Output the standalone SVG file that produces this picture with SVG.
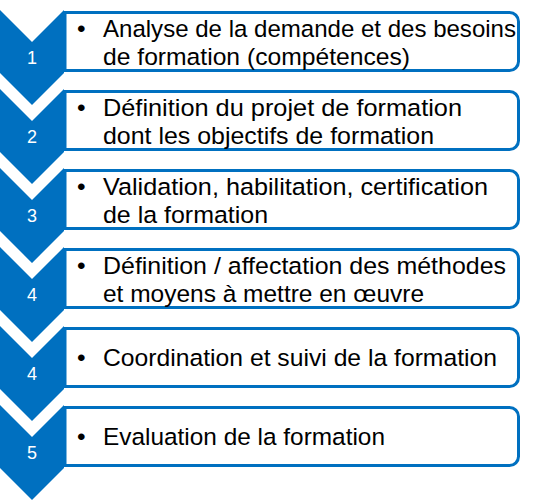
<svg xmlns="http://www.w3.org/2000/svg" width="537" height="502" viewBox="0 0 537 502">
<style>
.chev{fill:#0070C0;}
.box{fill:#FFFFFF;stroke:#0070C0;stroke-width:3;}
.num{font-family:"Liberation Sans",Arial,sans-serif;font-size:18px;fill:#FFFFFF;text-anchor:middle;}
.txt{font-family:"Liberation Sans",Arial,sans-serif;font-size:24.5px;fill:#000000;}
</style>
<defs>
<path id="chevron" d="M0,0 L32,32 L64,0 L64,63 L32,95 L0,63 Z"/>
<path id="panel" d="M65,0 H509.5 A9,9 0 0 1 518.5,9 V49 A9,9 0 0 1 509.5,58 H65 Z"/>
</defs>
<g id="connectors"></g>
<g id="step1">
<use href="#chevron" class="chev" x="0" y="10"/>
<text class="num" x="32" y="64">1</text>
<use href="#panel" class="box" x="0" y="12.5"/>
<text class="txt" x="77" y="37">•</text>
<text class="txt" x="103" y="37" textLength="413" lengthAdjust="spacingAndGlyphs">Analyse de la demande et des besoins</text>
<text class="txt" x="103" y="65" textLength="307" lengthAdjust="spacingAndGlyphs">de formation (compétences)</text>
</g>
<g id="step2">
<use href="#chevron" class="chev" x="0" y="89"/>
<text class="num" x="32" y="143">2</text>
<use href="#panel" class="box" x="0" y="91.5"/>
<text class="txt" x="77" y="116">•</text>
<text class="txt" x="103" y="116" textLength="359" lengthAdjust="spacingAndGlyphs">Définition du projet de formation</text>
<text class="txt" x="103" y="144" textLength="331" lengthAdjust="spacingAndGlyphs">dont les objectifs de formation</text>
</g>
<g id="step3">
<use href="#chevron" class="chev" x="0" y="168"/>
<text class="num" x="32" y="222">3</text>
<use href="#panel" class="box" x="0" y="170.5"/>
<text class="txt" x="77" y="195">•</text>
<text class="txt" x="103" y="195" textLength="385" lengthAdjust="spacingAndGlyphs">Validation, habilitation, certification</text>
<text class="txt" x="103" y="223" textLength="165" lengthAdjust="spacingAndGlyphs">de la formation</text>
</g>
<g id="step4">
<use href="#chevron" class="chev" x="0" y="247"/>
<text class="num" x="32" y="301">4</text>
<use href="#panel" class="box" x="0" y="249.5"/>
<text class="txt" x="77" y="274">•</text>
<text class="txt" x="103" y="274" textLength="403" lengthAdjust="spacingAndGlyphs">Définition / affectation des méthodes</text>
<text class="txt" x="103" y="302" textLength="321" lengthAdjust="spacingAndGlyphs">et moyens à mettre en œuvre</text>
</g>
<g id="step5">
<use href="#chevron" class="chev" x="0" y="326"/>
<text class="num" x="32" y="380">4</text>
<use href="#panel" class="box" x="0" y="328.5"/>
<text class="txt" x="77" y="366">•</text>
<text class="txt" x="103" y="366" textLength="394" lengthAdjust="spacingAndGlyphs">Coordination et suivi de la formation</text>
</g>
<g id="step6">
<use href="#chevron" class="chev" x="0" y="405"/>
<text class="num" x="32" y="459">5</text>
<use href="#panel" class="box" x="0" y="407.5"/>
<text class="txt" x="77" y="445">•</text>
<text class="txt" x="103" y="445" textLength="282" lengthAdjust="spacingAndGlyphs">Evaluation de la formation</text>
</g>
</svg>
